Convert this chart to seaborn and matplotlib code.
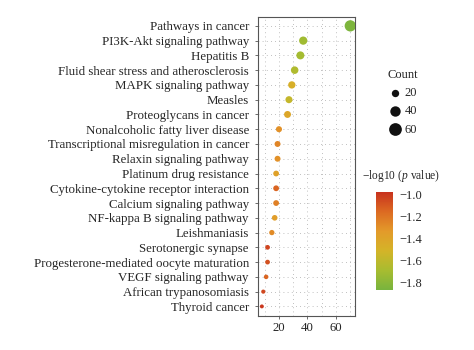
import numpy as np
import matplotlib.pyplot as plt
import seaborn as sns
import pandas as pd
from matplotlib.colors import LinearSegmentedColormap, Normalize
from matplotlib.cm import ScalarMappable
from matplotlib.ticker import MultipleLocator

pathways = ['Pathways in cancer', 'PI3K-Akt signaling pathway', 'Hepatitis B',
            'Fluid shear stress and atherosclerosis', 'MAPK signaling pathway',
            'Measles', 'Proteoglycans in cancer', 'Nonalcoholic fatty liver disease',
            'Transcriptional misregulation in cancer', 'Relaxin signaling pathway',
            'Platinum drug resistance', 'Cytokine-cytokine receptor interaction',
            'Calcium signaling pathway', 'NF-kappa B signaling pathway',
            'Leishmaniasis', 'Serotonergic synapse',
            'Progesterone-mediated oocyte maturation', 'VEGF signaling pathway',
            'African trypanosomiasis', 'Thyroid cancer']
counts = [70, 37, 35, 31, 29, 27, 26, 20, 19, 19, 18, 18, 18, 17, 15, 12, 12, 11, 9, 8]
logp = [-1.85, -1.72, -1.70, -1.66, -1.48, -1.58, -1.42, -1.30, -1.26, -1.30,
        -1.38, -1.14, -1.24, -1.36, -1.28, -1.04, -1.08, -1.14, -1.05, -1.0]

size_ticks = [20, 40, 60]
color_ticks = [-1.0, -1.2, -1.4, -1.6, -1.8]

df = pd.DataFrame({'pathway': pathways, 'count': counts, 'logp': logp})

sns.set_style("white")
plt.rcParams['font.family'] = ['Liberation Serif', 'DejaVu Serif']
plt.rcParams['mathtext.fontset'] = 'custom'
plt.rcParams['mathtext.rm'] = 'Liberation Serif'
plt.rcParams['mathtext.it'] = 'Liberation Serif:italic'

cmap = LinearSegmentedColormap.from_list(
    'rg', ['#78b43e', '#a8bc30', '#d4b428', '#e39a2a', '#dc6a22', '#c8321e'])
norm = Normalize(vmin=-1.87, vmax=-0.98)

smin, smax = 8, 66
slo, shi = 8, 70

fig = plt.figure(figsize=(4.74, 3.5), dpi=100)
ax = fig.add_axes([258 / 474, 1 - 316 / 350, 97 / 474, 299 / 350])

sns.scatterplot(data=df, x='count', y='pathway', hue='logp', palette=cmap,
                hue_norm=norm, size='count', sizes=(smin, smax),
                size_norm=(slo, shi), legend=False, linewidth=0, ax=ax,
                zorder=3)

ax.set_xlim(5.3, 73.3)
ax.set_ylim(len(pathways) - 0.35, -0.6)
ax.xaxis.set_major_locator(MultipleLocator(20))
ax.xaxis.set_minor_locator(MultipleLocator(10))
ax.set_xlabel('')
ax.set_ylabel('')
ax.grid(True, which='both', linestyle=(0, (1, 4)), color='#aaaaaa', linewidth=0.6)
ax.tick_params(axis='y', labelsize=9.3, length=2.5, width=0.6,
               color='#555555', pad=4, left=True)
ax.tick_params(axis='x', labelsize=9.2, length=2.5, width=0.6,
               color='#555555', pad=2, bottom=True)
ax.tick_params(axis='x', which='minor', length=0)
for sp in ax.spines.values():
    sp.set_color('#555555')
    sp.set_linewidth(0.8)

# size legend
handles = [ax.scatter([], [], s=v * 1.4, color='#111111', linewidth=0)
           for v in size_ticks]
fig.legend(handles, [str(v) for v in size_ticks], title='Count',
           loc='upper left', bbox_to_anchor=(382 / 474, 1 - 64 / 350),
           frameon=False, fontsize=9, title_fontsize=9,
           handletextpad=0.2, labelspacing=0.5, borderaxespad=0,
           handlelength=1.2)

# colour bar
cax = fig.add_axes([376 / 474, 1 - 290 / 350, 17 / 474, 98 / 350])
sm = ScalarMappable(norm=norm, cmap=cmap)
cb = fig.colorbar(sm, cax=cax, ticks=color_ticks)
cb.outline.set_visible(False)
cb.ax.tick_params(labelsize=9, length=2.5, color='white', direction='inout')
cb.ax.set_yticklabels(['\u22121.0', '\u22121.2', '\u22121.4', '\u22121.6', '\u22121.8'])
fig.text(401 / 474, 1 - 176 / 350, '\u2212log10 ($p$ value)', ha='center',
         va='center', fontsize=8.3)

fig.savefig('out.png', dpi=100)
